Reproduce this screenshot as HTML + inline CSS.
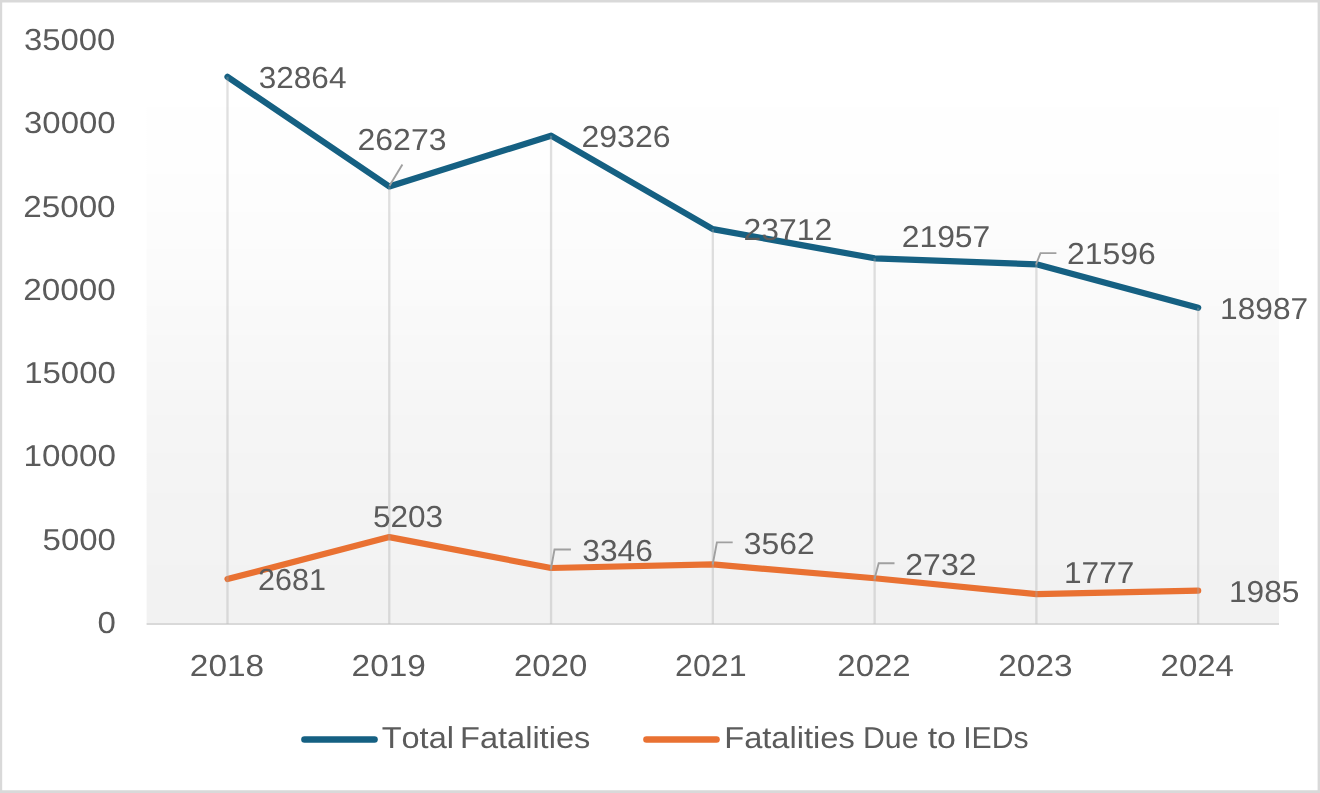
<!DOCTYPE html>
<html lang="en"><head><meta charset="utf-8"><title>Fatalities chart</title>
<style>
html,body{margin:0;padding:0;background:#fff;}
body{width:1320px;height:793px;overflow:hidden;}
svg{display:block;}
text{font-family:"Liberation Sans",sans-serif;font-size:30.3px;fill:#5b5b5b;font-kerning:none;text-rendering:geometricPrecision;}
</style></head><body>
<svg width="1320" height="793" viewBox="0 0 1320 793">
<defs><linearGradient id="pg" x1="0" y1="0" x2="0" y2="1">
<stop offset="0.0000" stop-color="#fefefe"/><stop offset="0.1297" stop-color="#fefefe"/><stop offset="0.1297" stop-color="#fdfdfd"/><stop offset="0.2032" stop-color="#fdfdfd"/><stop offset="0.2032" stop-color="#fcfcfc"/><stop offset="0.2748" stop-color="#fcfcfc"/><stop offset="0.2748" stop-color="#fbfbfb"/><stop offset="0.3348" stop-color="#fbfbfb"/><stop offset="0.3348" stop-color="#fafafa"/><stop offset="0.3851" stop-color="#fafafa"/><stop offset="0.3851" stop-color="#f9f9f9"/><stop offset="0.4405" stop-color="#f9f9f9"/><stop offset="0.4405" stop-color="#f8f8f8"/><stop offset="0.4935" stop-color="#f8f8f8"/><stop offset="0.4935" stop-color="#f7f7f7"/><stop offset="0.5477" stop-color="#f7f7f7"/><stop offset="0.5477" stop-color="#f6f6f6"/><stop offset="0.5961" stop-color="#f6f6f6"/><stop offset="0.5961" stop-color="#f5f5f5"/><stop offset="0.6696" stop-color="#f5f5f5"/><stop offset="0.6696" stop-color="#f4f4f4"/><stop offset="0.7470" stop-color="#f4f4f4"/><stop offset="0.7470" stop-color="#f3f3f3"/><stop offset="0.8864" stop-color="#f3f3f3"/><stop offset="0.8864" stop-color="#f2f2f2"/><stop offset="1.0000" stop-color="#f2f2f2"/></linearGradient></defs>
<rect x="0" y="0" width="1320" height="793" fill="#fff"/>
<path d="M0 0H1320V793H0Z M2.2 2.5V790.3H1317.6V2.5Z" fill="#d9d9d9" fill-rule="evenodd"/>
<rect x="146.6" y="107" width="1132.4" height="516.7" fill="url(#pg)"/>
<line x1="146.6" y1="623.90" x2="1279" y2="623.90" stroke="#d9d9d9" stroke-width="2"/>
<polyline points="227.50,76.81 389.28,186.49 551.06,135.69 712.84,229.11 874.62,258.31 1036.40,264.32 1198.18,307.74" fill="none" stroke="#156082" stroke-width="6.2" stroke-linecap="round" stroke-linejoin="round"/>
<polyline points="227.50,579.09 389.28,537.12 551.06,568.02 712.84,564.42 874.62,578.24 1036.40,594.13 1198.18,590.67" fill="none" stroke="#e97132" stroke-width="6.2" stroke-linecap="round" stroke-linejoin="round"/>
<g stroke="#aaaaaa" stroke-opacity="0.36" stroke-width="2.3">
<line x1="227.50" y1="76.81" x2="227.50" y2="623.70"/>
<line x1="389.28" y1="186.49" x2="389.28" y2="623.70"/>
<line x1="551.06" y1="135.69" x2="551.06" y2="623.70"/>
<line x1="712.84" y1="229.11" x2="712.84" y2="623.70"/>
<line x1="874.62" y1="258.31" x2="874.62" y2="623.70"/>
<line x1="1036.40" y1="264.32" x2="1036.40" y2="623.70"/>
<line x1="1198.18" y1="307.74" x2="1198.18" y2="623.70"/>
</g>
<g fill="none" stroke="#a0a0a0" stroke-width="1.9">
<polyline points="389.5,185.8 402.4,164.5"/>
<polyline points="1036,264.5 1040.5,253.1 1056.4,253.1"/>
<polyline points="550.9,569.1 554.5,549.5 570.9,549.5"/>
<polyline points="712.7,564.5 716.9,542.4 732.7,542.4"/>
<polyline points="874.5,579.1 878.7,563.3 894.5,563.3"/>
</g>
<line x1="304.5" y1="739.45" x2="374.5" y2="739.45" stroke="#156082" stroke-width="6.6" stroke-linecap="round"/>
<line x1="646.5" y1="739.45" x2="716.5" y2="739.45" stroke="#e97132" stroke-width="6.6" stroke-linecap="round"/>
<text x="24.05" y="50.27" textLength="91.33" lengthAdjust="spacingAndGlyphs">35000</text>
<text x="24.05" y="133.47" textLength="91.54" lengthAdjust="spacingAndGlyphs">30000</text>
<text x="23.23" y="216.68" textLength="92.37" lengthAdjust="spacingAndGlyphs">25000</text>
<text x="23.23" y="299.88" textLength="92.57" lengthAdjust="spacingAndGlyphs">20000</text>
<text x="24.19" y="383.09" textLength="91.60" lengthAdjust="spacingAndGlyphs">15000</text>
<text x="23.57" y="466.29" textLength="92.33" lengthAdjust="spacingAndGlyphs">10000</text>
<text x="42.58" y="549.50" textLength="73.31" lengthAdjust="spacingAndGlyphs">5000</text>
<text x="97.51" y="632.70" textLength="18.38" lengthAdjust="spacingAndGlyphs">0</text>
<text x="189.82" y="676.20" textLength="74.33" lengthAdjust="spacingAndGlyphs">2018</text>
<text x="351.62" y="676.20" textLength="74.26" lengthAdjust="spacingAndGlyphs">2019</text>
<text x="514.04" y="676.20" textLength="73.24" lengthAdjust="spacingAndGlyphs">2020</text>
<text x="675.08" y="676.20" textLength="71.49" lengthAdjust="spacingAndGlyphs">2021</text>
<text x="837.34" y="676.20" textLength="73.31" lengthAdjust="spacingAndGlyphs">2022</text>
<text x="998.32" y="676.20" textLength="74.14" lengthAdjust="spacingAndGlyphs">2023</text>
<text x="1160.64" y="676.20" textLength="73.32" lengthAdjust="spacingAndGlyphs">2024</text>
<text x="258.80" y="88.00" textLength="87.62" lengthAdjust="spacingAndGlyphs">32864</text>
<text x="357.49" y="149.80" textLength="89.02" lengthAdjust="spacingAndGlyphs">26273</text>
<text x="581.49" y="146.70" textLength="89.02" lengthAdjust="spacingAndGlyphs">29326</text>
<text x="743.50" y="240.20" textLength="88.61" lengthAdjust="spacingAndGlyphs">23712</text>
<text x="901.70" y="247.40" textLength="88.61" lengthAdjust="spacingAndGlyphs">21957</text>
<text x="1067.09" y="264.30" textLength="88.81" lengthAdjust="spacingAndGlyphs">21596</text>
<text x="1220.09" y="318.90" textLength="88.00" lengthAdjust="spacingAndGlyphs">18987</text>
<text x="258.06" y="590.20" textLength="67.93" lengthAdjust="spacingAndGlyphs">2681</text>
<text x="372.94" y="526.50" textLength="70.25" lengthAdjust="spacingAndGlyphs">5203</text>
<text x="582.39" y="560.70" textLength="70.50" lengthAdjust="spacingAndGlyphs">3346</text>
<text x="743.89" y="553.80" textLength="70.81" lengthAdjust="spacingAndGlyphs">3562</text>
<text x="905.29" y="574.90" textLength="71.22" lengthAdjust="spacingAndGlyphs">2732</text>
<text x="1063.99" y="583.40" textLength="70.30" lengthAdjust="spacingAndGlyphs">1777</text>
<text x="1228.98" y="602.10" textLength="70.55" lengthAdjust="spacingAndGlyphs">1985</text>
<text x="381.67" y="748.30" textLength="72.31" lengthAdjust="spacingAndGlyphs">Total</text>
<text x="460.03" y="748.30" textLength="130.25" lengthAdjust="spacingAndGlyphs">Fatalities</text>
<text x="724.22" y="748.30" textLength="130.56" lengthAdjust="spacingAndGlyphs">Fatalities</text>
<text x="863.02" y="748.30" textLength="55.53" lengthAdjust="spacingAndGlyphs">Due</text>
<text x="927.69" y="748.30" textLength="28.34" lengthAdjust="spacingAndGlyphs">to</text>
<text x="963.21" y="748.30" textLength="65.48" lengthAdjust="spacingAndGlyphs">IEDs</text>
</svg>
</body></html>
